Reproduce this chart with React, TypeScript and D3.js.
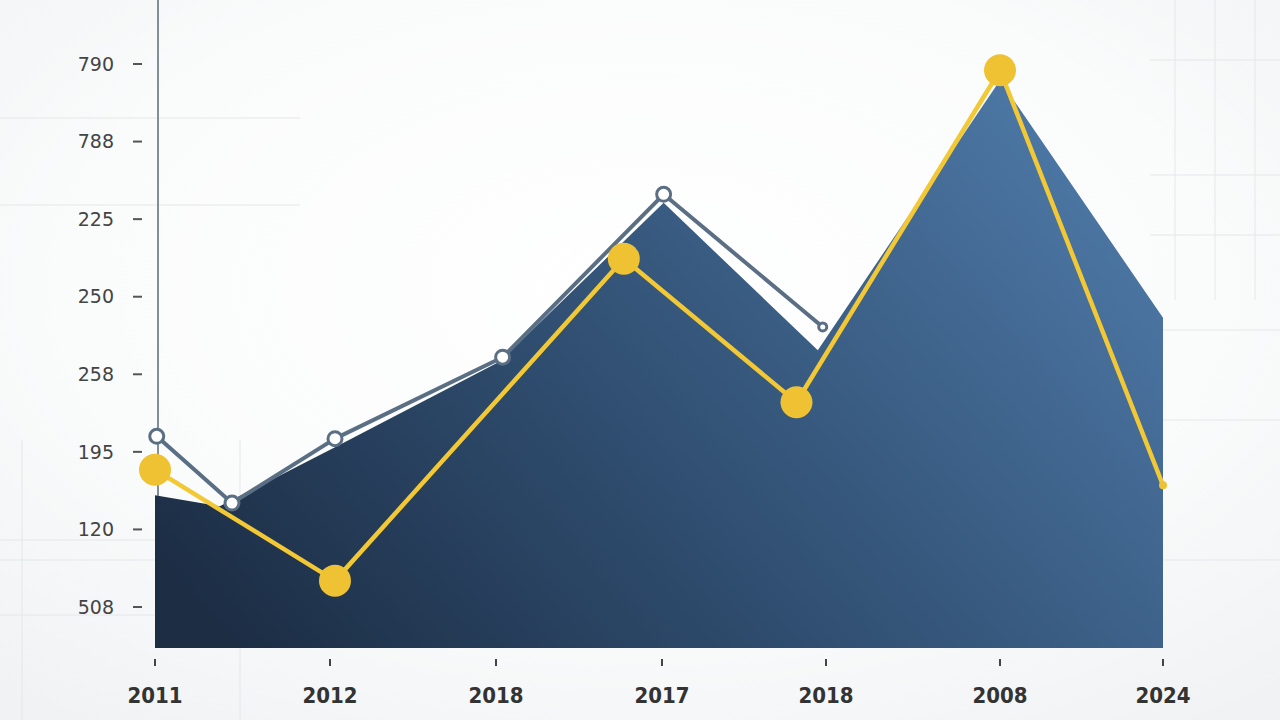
import { useEffect, useRef } from 'react';
import * as d3 from 'd3';

// tick labels as printed on the chart (positions are evenly spaced on y)
const yTickLabels = ['508', '120', '195', '258', '250', '225', '788', '790'];
const xTickLabels = ['2011', '2012', '2018', '2017', '2018', '2008', '2024'];

// series in axis units: x = tick index (fractional), y = tick step
const areaX = [0, 0.37, 1.03, 2.02, 3.01, 3.95, 5, 6];
const areaY = [1.44, 1.3, 2.06, 3.16, 5.21, 3.31, 6.79, 3.73];

const grayX = [0.01, 0.44, 1.03, 2.04, 3.01, 3.98];
const grayY = [2.2, 1.34, 2.17, 3.22, 5.32, 3.61];

const goldX = [0, 1.03, 2.77, 3.82, 5, 6];
const goldY = [1.77, 0.34, 4.49, 2.64, 6.92, 1.57];

const baseValue = -0.53;

export default function App() {
  const svgRef = useRef<SVGSVGElement>(null);

  useEffect(() => {
    if (!svgRef.current) return;
    const width = 1280;
    const height = 720;
    const svg = d3.select(svgRef.current);
    svg.selectAll('*').remove();

    // tick spacing on x is not quite even in the original
    const x = d3.scaleLinear()
      .domain([0, 1, 2, 3, 4, 5, 6])
      .range([155, 330, 496, 662, 826, 1000, 1163]);
    const y = d3.scaleLinear().domain([0, 7]).range([607, 64]);

    const defs = svg.append('defs');
    const bg = defs.append('radialGradient').attr('id', 'bg').attr('cx', '50%').attr('cy', '40%').attr('r', '75%');
    bg.append('stop').attr('offset', '0%').attr('stop-color', '#ffffff');
    bg.append('stop').attr('offset', '60%').attr('stop-color', '#fafbfb');
    bg.append('stop').attr('offset', '100%').attr('stop-color', '#f0f2f4');

    const fill = defs.append('linearGradient').attr('id', 'areaFill')
      .attr('x1', '0%').attr('y1', '85%').attr('x2', '100%').attr('y2', '35%');
    fill.append('stop').attr('offset', '0%').attr('stop-color', '#1c2d44');
    fill.append('stop').attr('offset', '45%').attr('stop-color', '#2f4d6f');
    fill.append('stop').attr('offset', '100%').attr('stop-color', '#4b75a2');

    svg.append('rect').attr('width', width).attr('height', height).attr('fill', 'url(#bg)');

    // faint background texture lines
    const faint = svg.append('g').attr('stroke', '#e4e7ea').attr('stroke-width', 1);
    [118, 205, 540, 560, 615].forEach((yy) => {
      faint.append('line').attr('x1', 0).attr('x2', 300).attr('y1', yy).attr('y2', yy);
    });
    [60, 175, 235, 330, 420, 560].forEach((yy) => {
      faint.append('line').attr('x1', 1150).attr('x2', 1280).attr('y1', yy).attr('y2', yy);
    });
    [1175, 1215, 1255].forEach((xx) => {
      faint.append('line').attr('x1', xx).attr('x2', xx).attr('y1', 0).attr('y2', 300);
    });
    [22, 240].forEach((xx) => {
      faint.append('line').attr('x1', xx).attr('x2', xx).attr('y1', 440).attr('y2', 720);
    });

    // y axis line
    svg.append('line')
      .attr('x1', 158).attr('x2', 158).attr('y1', 0).attr('y2', 648)
      .attr('stroke', '#848e98').attr('stroke-width', 2);

    // y ticks
    const yTicks = svg.append('g');
    yTickLabels.forEach((lab, i) => {
      const yy = y(i);
      yTicks.append('line').attr('x1', 133).attr('x2', 142).attr('y1', yy).attr('y2', yy)
        .attr('stroke', '#555').attr('stroke-width', 2);
      yTicks.append('text').attr('x', 114).attr('y', yy).attr('dy', '0.35em')
        .attr('text-anchor', 'end').attr('font-family', 'DejaVu Sans, sans-serif')
        .attr('font-size', 19).attr('fill', '#444').text(lab);
    });

    // area
    const areaPts = areaX.map((v, i) => [v, areaY[i]] as [number, number]);
    const area = d3.area<[number, number]>()
      .x((d) => x(d[0]))
      .y0(y(baseValue))
      .y1((d) => y(d[1]));
    svg.append('path').datum(areaPts).attr('d', area).attr('fill', 'url(#areaFill)');

    // x ticks
    const xTicks = svg.append('g');
    xTickLabels.forEach((lab, i) => {
      const xx = x(i);
      xTicks.append('line').attr('x1', xx).attr('x2', xx).attr('y1', 659).attr('y2', 666)
        .attr('stroke', '#444').attr('stroke-width', 2);
      xTicks.append('text').attr('x', xx).attr('y', 703)
        .attr('text-anchor', 'middle').attr('font-family', 'DejaVu Sans Condensed, DejaVu Sans, sans-serif')
        .attr('font-weight', 'bold').attr('font-size', 22).attr('fill', '#333').text(lab);
    });

    const line = d3.line<[number, number]>().x((d) => x(d[0])).y((d) => y(d[1]));

    // gray series
    const grayPts = grayX.map((v, i) => [v, grayY[i]] as [number, number]);
    svg.append('path').datum(grayPts).attr('d', line)
      .attr('fill', 'none').attr('stroke', '#5a6f84').attr('stroke-width', 4).attr('stroke-linejoin', 'round');
    svg.append('g').selectAll('circle').data(grayPts).join('circle')
      .attr('cx', (d) => x(d[0])).attr('cy', (d) => y(d[1]))
      .attr('r', (_, i) => (i === grayPts.length - 1 ? 4 : 7))
      .attr('fill', '#ffffff').attr('stroke', '#5a6f84').attr('stroke-width', 3);

    // gold series
    const goldPts = goldX.map((v, i) => [v, goldY[i]] as [number, number]);
    svg.append('path').datum(goldPts).attr('d', line)
      .attr('fill', 'none').attr('stroke', '#f2c835').attr('stroke-width', 4.5).attr('stroke-linejoin', 'round');
    svg.append('g').selectAll('circle').data(goldPts).join('circle')
      .attr('cx', (d) => x(d[0])).attr('cy', (d) => y(d[1]))
      .attr('r', (_, i) => (i === goldPts.length - 1 ? 4 : 16))
      .attr('fill', '#eec232');
  }, []);

  return (
    <svg
      ref={svgRef}
      width={1280}
      height={720}
      style={{ position: 'absolute', left: 0, top: 0, display: 'block' }}
    />
  );
}
